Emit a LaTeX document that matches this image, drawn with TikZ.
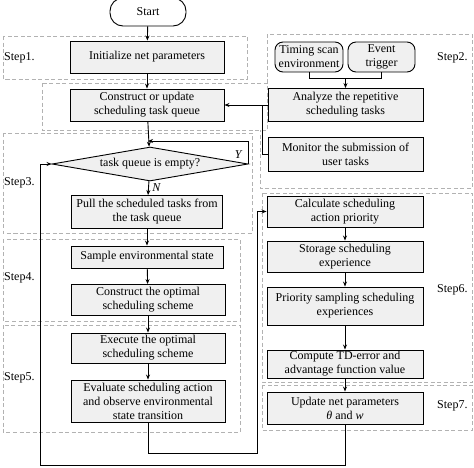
\documentclass[tikz,border=0pt]{standalone}
\usepackage{fontspec}
\setmainfont{Liberation Serif}
\usetikzlibrary{arrows.meta,shapes.geometric}

\begin{document}
\begin{tikzpicture}[x=1pt,y=-1pt]
        % Box and line styles
        \tikzset{
            procbox/.style={draw=black, fill=gray!12, line width=0.9pt, minimum width=154pt, align=center, inner sep=1pt, font=\fontsize{12}{14}\selectfont},
            trigbox/.style={procbox, rounded corners=8pt, minimum width=68pt, minimum height=30pt},
            stepzone/.style={draw=gray!60, dash pattern=on 4pt off 2.5pt, line width=0.8pt},
            steplabel/.style={font=\fontsize{12}{14}\selectfont, inner sep=0pt, anchor=west},
            flow/.style={black, line width=0.9pt, -{Stealth[length=5pt,width=4pt]}},
            link/.style={black, line width=0.9pt}
        }
        \useasboundingbox (0,0) rectangle (474,467);

        % ==========================================
        % DASHED STEP ZONES
        % ==========================================
        \draw[stepzone] (3,36) rectangle (247,79);
        \draw[stepzone] (42,83) rectangle (267,130);
        \draw[stepzone] (267,83) -- (267,34) -- (472,34) -- (472,188) -- (260,188) -- (260,130);
        \draw[stepzone] (3,133) rectangle (252,233);
        \draw[stepzone] (3,239) rectangle (240,321);
        \draw[stepzone] (3,325) rectangle (240,432);
        \draw[stepzone] (262,193) rectangle (472,382);
        \draw[stepzone] (262,385) rectangle (472,430);

        \node[steplabel] (s1) at (4,58) {Step1.};
        \node[steplabel] (s2) at (437,58) {Step2.};
        \node[steplabel] (s3) at (4,183) {Step3.};
        \node[steplabel] (s4) at (4,278) {Step4.};
        \node[steplabel] (s5) at (4,378) {Step5.};
        \node[steplabel] (s6) at (437,290) {Step6.};
        \node[steplabel] (s7) at (437,406) {Step7.};

        % ==========================================
        % LEFT COLUMN
        % ==========================================
        \node[procbox, fill=white, rounded corners=13pt, minimum width=76pt, minimum height=28pt] (start) at (148,12) {Start};
        \node[procbox, minimum height=32pt] (init) at (147,57) {Initialize net parameters};
        \node[procbox, minimum height=32pt] (cons) at (147,105) {Construct or update\\scheduling task queue};
        \node[procbox, diamond, aspect=5.8, inner sep=0pt, minimum width=196pt, minimum height=34pt] (empty) at (150,164) {task queue is empty?};
        \node[procbox, minimum width=151pt, minimum height=33pt] (pull) at (147,212) {Pull the scheduled tasks from\\the task queue};
        \node[procbox, minimum width=152pt, minimum height=22pt] (sample) at (147,257) {Sample environmental state};
        \node[procbox, minimum height=31pt] (copt) at (148,300) {Construct the optimal\\scheduling scheme};
        \node[procbox, minimum height=30pt] (exec) at (148,348) {Execute the optimal\\scheduling scheme};
        \node[procbox, minimum height=42pt] (eval) at (148,401) {Evaluate scheduling action\\and observe environmental\\state transition};

        % ==========================================
        % RIGHT COLUMN
        % ==========================================
        \node[trigbox] (timing) at (309,57) {Timing scan\\environment};
        \node[trigbox, minimum width=67pt] (event) at (381.5,57) {Event\\trigger};
        \node[procbox, minimum width=155pt, minimum height=33pt] (analyze) at (345.5,105) {Analyze the repetitive\\scheduling tasks};
        \node[procbox, minimum width=155pt, minimum height=34pt] (monitor) at (345.5,154) {Monitor the submission of\\user tasks};
        \node[procbox, minimum width=156pt, minimum height=31pt] (calc) at (345,211.5) {Calculate scheduling\\action priority};
        \node[procbox, minimum width=156pt, minimum height=31pt] (store) at (345,256.5) {Storage scheduling\\experience};
        \node[procbox, minimum width=156pt, minimum height=38pt] (prio) at (345,306) {Priority sampling scheduling\\experiences};
        \node[procbox, minimum width=156pt, minimum height=28pt] (comp) at (345,364) {Compute TD-error and\\advantage function value};
        \node[procbox, minimum width=156pt, minimum height=32pt] (update) at (345,408) {Update net parameters\\\textit{θ} and \textit{w}};

        % ==========================================
        % CONNECTORS
        % ==========================================
        \coordinate (yjoin) at (148,141);
        \coordinate (mjoin) at (262,105);
        \coordinate (trigjoin) at (345.5,78);
        \coordinate (evaldown) at (257,453);
        \coordinate (backcorner) at (40,465);

        \draw[flow] (start) -- (init);
        \draw[flow] (init) -- (cons);
        \draw[flow] (cons) -- (empty);
        \draw[flow] (empty.east) |- (yjoin) node[pos=0.2, left=3pt, font=\fontsize{12}{14}\selectfont\itshape] {Y};
        \draw[flow] (empty) -- node[right, pos=0.45, font=\fontsize{12}{14}\selectfont\itshape] {N} (pull);
        \draw[flow] (pull) -- (sample);
        \draw[flow] (sample) -- (copt);
        \draw[flow] (copt) -- (exec);
        \draw[flow] (exec) -- (eval);
        \draw[flow] (eval.south) |- (evaldown) |- (calc.west);

        \draw[link] (timing.south) -- ++(0,6) -| (event.south);
        \draw[flow] (trigjoin) -- (analyze);
        \draw[flow] (analyze) -- (cons);
        \draw[link] (monitor.west) -| (mjoin);

        \draw[flow] (calc) -- (store);
        \draw[flow] (store) -- (prio);
        \draw[flow] (prio) -- (comp);
        \draw[flow] (comp) -- (update);
        \draw[flow] (update.south) |- (backcorner) |- (empty.west);
    \end{tikzpicture}
\end{document}
